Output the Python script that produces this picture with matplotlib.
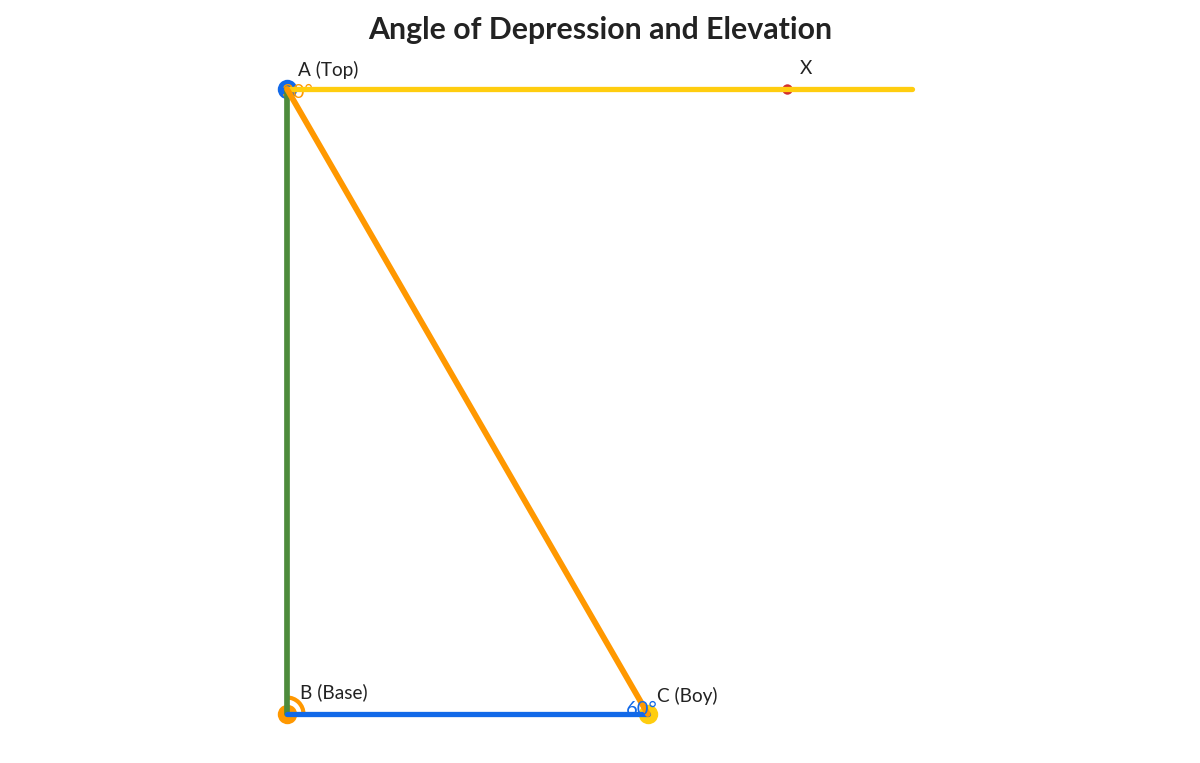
import numpy as np
import matplotlib
matplotlib.use("Agg")
import matplotlib.pyplot as plt
from matplotlib.patches import Arc
from matplotlib.transforms import ScaledTranslation

title = "Angle of Depression and Elevation"
point_names = ["A (Top)", "B (Base)", "C (Boy)", "X"]
point_x = [0, 0, 17.32, 24]
point_y = [30, 0, 0, 30]
horizontal_end = [30, 30]
angle_labels = ["30°", "60°"]

W, H = 1200, 763
plt.rcParams["font.family"] = ["Lato", "DejaVu Sans"]
fig = plt.figure(figsize=(W / 100, H / 100), dpi=100, facecolor="white")
ax = fig.add_axes([0, 0, 1, 1])
scale = 625 / 30
ax.set_xlim(-287 / scale, (W - 287) / scale)
ax.set_ylim(-(H - 714) / scale, 714 / scale)
ax.axis("off")

BLUE, GREEN, ORANGE, YELLOW, RED, INK = "#1269e8", "#4d8b3c", "#ff9800", "#ffcd0f", "#d3302f", "#222222"

A, B, C, X = list(zip(point_x, point_y))

# points
dot_colors = [BLUE, ORANGE, YELLOW, RED]
dot_sizes = [14, 14, 14, 7.5]
for (px, py), c, s in zip([A, B, C, X], dot_colors, dot_sizes):
    ax.plot([px], [py], "o", color=c, ms=s, mec="none", zorder=2)

# angle text under the lines
ax.text(A[0], A[1], angle_labels[0], color=ORANGE, fontsize=14.5, zorder=2.2,
        transform=ax.transData + ScaledTranslation(-6 / 100, -9 / 100, fig.dpi_scale_trans),
        ha="left", va="baseline")

# sides
ax.plot([A[0], B[0]], [A[1], B[1]], color=GREEN, lw=4.1, solid_capstyle="round", zorder=3)
ax.plot([B[0], C[0]], [B[1], C[1]], color=BLUE, lw=3.8, solid_capstyle="round", zorder=3)
ax.plot([A[0], horizontal_end[0]], [A[1], horizontal_end[1]], color=YELLOW, lw=3.8, solid_capstyle="round", zorder=3)
ax.plot([A[0], C[0]], [A[1], C[1]], color=ORANGE, lw=4.2, solid_capstyle="round", zorder=4)

# right-angle arc at B
r = 2 * 16.5 / scale
ax.add_patch(Arc(B[:2], r, r, theta1=0, theta2=90, color=ORANGE, lw=3, zorder=2.5))

# 60 degree label
ax.text(C[0], C[1], angle_labels[1], color=BLUE, fontsize=14.5, zorder=5,
        transform=ax.transData + ScaledTranslation(-22 / 100, -1 / 100, fig.dpi_scale_trans),
        ha="left", va="baseline")

# point labels
offsets = [(11, 10), (13, 13), (9, 9), (13, 12)]
for (px, py), name, (dx, dy) in zip([A, B, C, X], point_names, offsets):
    ax.annotate(name, (px, py), xytext=(dx * 0.72, dy * 0.72), textcoords="offset points",
                fontsize=13.7, color=INK, ha="left", va="bottom")

fig.text(600 / W, 1 - 30.5 / H, title, fontsize=21.8, fontweight="bold", color=INK, ha="center", va="center")
fig.savefig("out.png", dpi=100, facecolor="white")
